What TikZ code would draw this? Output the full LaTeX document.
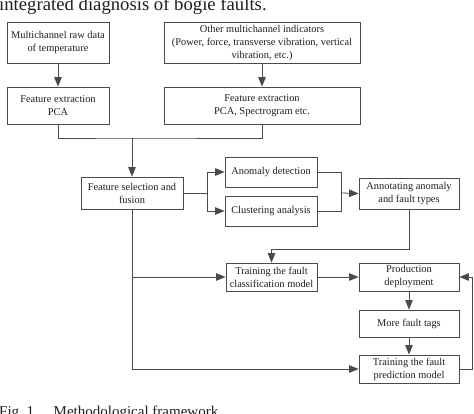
\documentclass[tikz,border=0pt]{standalone}
\usepackage{fontspec}
\setmainfont{Liberation Serif}
\usetikzlibrary{arrows.meta,calc}
\definecolor{ln}{HTML}{4A4A4A}
\definecolor{tx}{HTML}{1E1E1E}
\tikzset{
  box/.style={draw=ln, line width=0.8pt, inner sep=0pt, align=center, text=tx,
    font=\fontsize{10.4}{13}\selectfont},
  conn/.style={draw=ln, line width=0.8pt},
  arr/.style={conn, -{Triangle[length=9.5pt,width=7.5pt]}},
}
\begin{document}
\begin{tikzpicture}[x=1pt,y=-1pt]
\useasboundingbox (0,0) rectangle (474,413);
\begin{scope}
\clip (0,0) rectangle (474,413);
\node[anchor=base west, inner sep=0pt, text=tx, font=\fontsize{18.7}{20}\selectfont] (toptext) at (-1,10.5) {integrated diagnosis of bogie faults.};
\node[anchor=base west, inner sep=0pt, text=tx, font=\fontsize{15}{17}\selectfont] (cap) at (-1,416) {Fig.~1\hspace{1.3em}Methodological framework};
\end{scope}
% boxes
\node[box, minimum width=102pt, minimum height=41pt] (A) at (58,42.5) {Multichannel raw data\\of temperature};
\node[box, minimum width=196pt, minimum height=41pt] (B) at (262,42.5) {Other multichannel indicators\\(Power, force, transverse vibration, vertical\\vibration, etc.)};
\node[box, minimum width=102pt, minimum height=37pt] (C) at (58,105.5) {Feature extraction\\PCA};
\node[box, minimum width=196pt, minimum height=37pt] (D) at (262,105.5) {Feature extraction\\PCA, Spectrogram etc.};
\node[box, minimum width=102pt, minimum height=32pt] (E) at (132,193) {Feature selection and\\fusion};
\node[box, minimum width=92pt, minimum height=30pt] (AN) at (271,172) {Anomaly detection};
\node[box, minimum width=92pt, minimum height=30pt] (CL) at (271,211) {Clustering analysis};
\node[box, minimum width=100pt, minimum height=31pt] (AT) at (409,193.5) {Annotating anomaly\\and fault types};
\node[box, minimum width=91pt, minimum height=28pt] (TC) at (271.5,277) {Training the fault\\classification model};
\node[box, minimum width=100pt, minimum height=28pt] (PD) at (409,277) {Production\\deployment};
\node[box, minimum width=100pt, minimum height=27pt] (MT) at (409,323.5) {More fault tags};
\node[box, minimum width=100pt, minimum height=28pt] (TP) at (409,369) {Training the fault\\prediction model};
% helper coordinates
\coordinate (mrg) at (132,138);
\coordinate (sp) at (207,193);
\coordinate (jn) at (341,193);
\coordinate (c1) at (271.5,249);
\coordinate (b1) at (132,277);
\coordinate (fb) at (472,323);
% connectors
\draw[arr] (A) -- (C);
\draw[arr] (B) -- (D);
\draw[conn] (C.south) |- (mrg) -| (D.south);
\draw[arr] (mrg) -- (E.north);
\draw[conn] (E.east) -- (sp);
\draw[arr] (sp) |- (AN.west);
\draw[arr] (sp) |- (CL.west);
\draw[conn] (AN.east) -| (jn);
\draw[conn] (CL.east) -| (jn);
\draw[arr] (jn) -- (AT.west);
\draw[conn] (AT.south) |- (c1);
\draw[arr] (c1) -- (TC.north);
\draw[arr] (E.south) |- (TP.west);
\draw[arr] (b1) -- (TC.west);
\draw[arr] (TC) -- (PD);
\draw[arr] (PD) -- (MT);
\draw[arr] (MT) -- (TP);
\draw[conn] (TP.east) -| (fb);
\draw[arr] (fb) |- (PD.east);
\end{tikzpicture}
\end{document}
